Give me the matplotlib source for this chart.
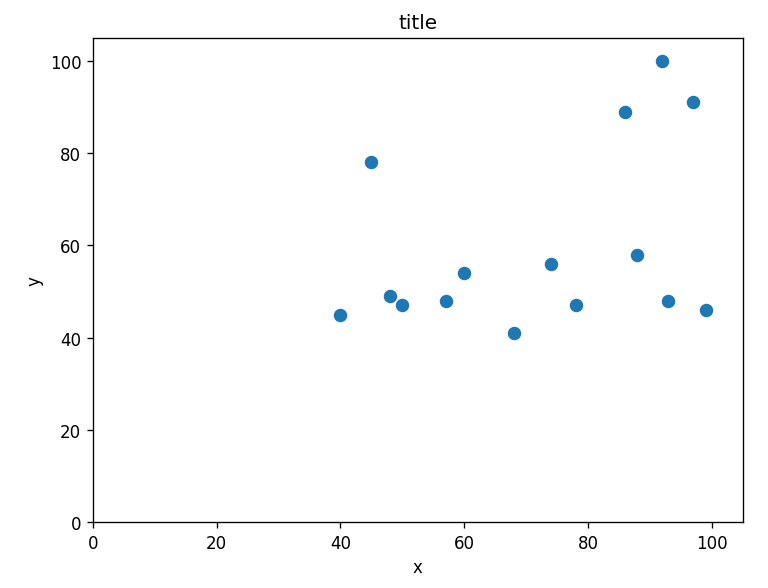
import matplotlib
matplotlib.use("Agg")
import matplotlib.pyplot as plt

x = [40, 45, 48, 50, 57, 60, 68, 74, 78, 86, 88, 92, 93, 97, 99]
y = [45, 78, 49, 47, 48, 54, 41, 56, 47, 89, 58, 100, 48, 91, 46]

fig = plt.figure(figsize=(6.4, 4.908), dpi=120)
ax = fig.add_axes([0.121, 0.112, 0.846, 0.822])
ax.scatter(x, y, s=50)
ax.set_xlim(0, 105)
ax.set_ylim(0, 105)
ax.set_title("title")
ax.set_xlabel("x")
ax.set_ylabel("y")

fig.savefig("out.png", dpi=120)
